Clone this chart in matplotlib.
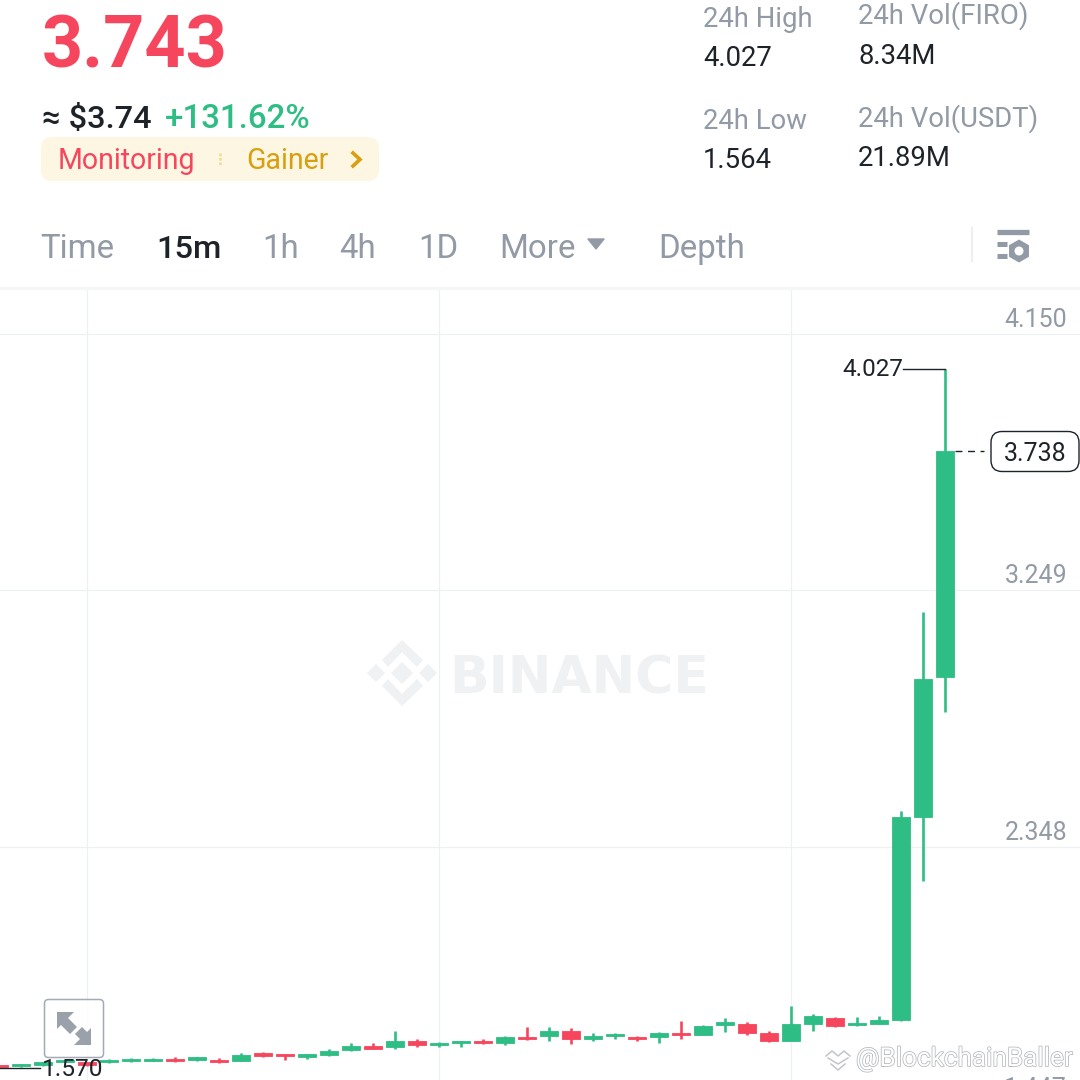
import matplotlib
matplotlib.use('Agg')
import matplotlib.pyplot as plt
import matplotlib.patheffects as pe
from matplotlib.patches import FancyBboxPatch, Polygon, Circle, RegularPolygon

# 15m candles, oldest first
opens = [1.581, 1.577, 1.581, 1.593, 1.591, 1.591, 1.595, 1.596, 1.603, 1.600, 1.600,
         1.597, 1.623, 1.620, 1.612, 1.619, 1.634, 1.648, 1.647, 1.666, 1.652, 1.658,
         1.667, 1.659, 1.682, 1.683, 1.702, 1.674, 1.683, 1.682, 1.679, 1.696, 1.687,
         1.724, 1.727, 1.695, 1.667, 1.726, 1.748, 1.722, 1.727, 1.741, 2.452, 2.944]
highs = [1.585, 1.587, 1.594, 1.603, 1.594, 1.602, 1.606, 1.606, 1.612, 1.611, 1.607,
         1.626, 1.628, 1.621, 1.622, 1.637, 1.660, 1.660, 1.700, 1.674, 1.662, 1.668,
         1.672, 1.684, 1.714, 1.716, 1.711, 1.695, 1.695, 1.683, 1.698, 1.736, 1.722,
         1.746, 1.732, 1.700, 1.788, 1.763, 1.750, 1.752, 1.753, 2.476, 3.172, 4.027]
lows = [1.572, 1.574, 1.579, 1.591, 1.579, 1.590, 1.593, 1.595, 1.594, 1.596, 1.589,
        1.595, 1.612, 1.598, 1.605, 1.613, 1.633, 1.638, 1.640, 1.645, 1.645, 1.645,
        1.655, 1.652, 1.671, 1.666, 1.655, 1.668, 1.672, 1.666, 1.661, 1.673, 1.686,
        1.698, 1.688, 1.664, 1.665, 1.703, 1.717, 1.720, 1.725, 1.737, 2.227, 2.821]
closes = [1.574, 1.584, 1.591, 1.600, 1.581, 1.600, 1.603, 1.605, 1.595, 1.609, 1.593,
          1.619, 1.613, 1.613, 1.620, 1.633, 1.650, 1.640, 1.666, 1.651, 1.660, 1.667,
          1.658, 1.680, 1.672, 1.701, 1.672, 1.683, 1.692, 1.674, 1.696, 1.686, 1.718,
          1.732, 1.695, 1.666, 1.727, 1.753, 1.719, 1.729, 1.741, 2.452, 2.937, 3.738]

price_ticks = [4.150, 3.249, 2.348, 1.447]
time_grid = [4, 20, 36]
tabs = ['Time', '15m', '1h', '4h', '1D', 'More', 'Depth']
tab_x = [40, 156, 262, 339, 418, 499, 658]

GREEN = '#2EBD85'
RED = '#F6465D'
DARK = '#1E2329'
GRAY = '#929AA5'
GRID = '#EEF0F2'
GOLD = '#D89F0E'
FONT = 'Roboto'

plt.rcParams['font.family'] = FONT
fig = plt.figure(figsize=(10.8, 10.8), dpi=100, facecolor='white')

# chart area, y pixels 289-1080
ax = fig.add_axes([0, 0, 1, 791 / 1080])
ax.set_xlim(1 / 22, 1081 / 22)
ax.set_ylim(1.5295, 4.308)
for s in ax.spines.values():
    s.set_visible(False)
ax.set_xticks([])
ax.set_yticks([])

for t in price_ticks:
    ax.axhline(t, color=GRID, lw=0.9, zorder=1)
    ax.annotate(f'{t:.3f}', xy=(1, t), xycoords=('axes fraction', 'data'),
                xytext=(-13, 7), textcoords='offset pixels', ha='right', va='baseline',
                fontsize=18, color=GRAY, annotation_clip=False)
for g in time_grid:
    ax.axvline(g, color=GRID, lw=0.9, zorder=1)

for i in range(len(opens)):
    c = GREEN if closes[i] >= opens[i] else RED
    ax.vlines(i, lows[i], highs[i], color=c, lw=1.9, zorder=3)
    ax.bar(i, abs(closes[i] - opens[i]), bottom=min(opens[i], closes[i]),
           width=0.86, color=c, ec=c, lw=0.6, zorder=3)

# high / low / last markers
ax.plot([41.1, 43], [highs[-1], highs[-1]], color=DARK, lw=1, zorder=4)
ax.annotate('4.027', xy=(41.1, highs[-1]), xytext=(0, -1), textcoords='offset pixels',
            ha='right', va='center', fontsize=17.5, color=DARK)
ax.plot([0, 1.85], [1.570, 1.570], color=DARK, lw=1, zorder=6)
ax.plot([43.45, 44.75], [closes[-1], closes[-1]], color=DARK, lw=1, ls=(0, (5, 4)), zorder=4)

# everything else is placed in pixels
ov = fig.add_axes([0, 0, 1, 1], facecolor='none')
ov.set_xlim(0, 1080)
ov.set_ylim(1080, 0)
ov.axis('off')


def txt(x, y, s, size, color, weight='normal', ha='left', **kw):
    return ov.text(x, y, s, fontsize=size * 0.72, color=color, fontweight=weight, ha=ha,
                   va='baseline', **kw)


# header
txt(42, 68, '3.743', 72, RED, 'bold')
txt(42, 128, '≈ $3.74', 32.5, DARK, 'medium')
txt(165, 128, '+131.62%', 33, GREEN, 'medium')
ov.add_patch(FancyBboxPatch((41, 137), 338, 44, boxstyle='round,pad=0,rounding_size=11',
                            fc='#FDF6E3', ec='none'))
txt(58, 169, 'Monitoring', 28.5, RED)
txt(246, 169, 'Gainer', 28.5, GOLD)
ov.plot([220, 220], [153, 165], color='#EFDF9A', lw=2, ls=(0, (1, 0.6)))
ov.plot([353, 360, 353], [153, 159.5, 166], color=GOLD, lw=2.6, solid_joinstyle='miter')

txt(703, 27, '24h High', 27.5, GRAY)
txt(703, 66, '4.027', 27.5, DARK)
txt(703, 129, '24h Low', 27.5, GRAY)
txt(703, 168, '1.564', 27.5, DARK)
txt(858, 24, '24h Vol(FIRO)', 27.5, GRAY)
txt(858, 64, '8.34M', 27.5, DARK)
txt(858, 127, '24h Vol(USDT)', 27.5, GRAY)
txt(858, 166, '21.89M', 27.5, DARK)

# tabs
for x, s in zip(tab_x, tabs):
    if s == '15m':
        txt(x, 258, s, 32.5, DARK, 'medium')
    else:
        txt(x, 258, s, 33, GRAY)
ov.add_patch(Polygon([(588, 239), (604, 239), (596, 249)], fc=GRAY, ec=GRAY, lw=1, joinstyle='round'))
ov.plot([972, 972], [228, 261], color='#EEEFF1', lw=1.6)
ov.plot([997, 1029], [231.5, 231.5], color=GRAY, lw=3.8, solid_capstyle='butt')
ov.plot([997, 1007], [244, 244], color=GRAY, lw=3.6, solid_capstyle='butt')
ov.plot([997, 1007], [256, 256], color=GRAY, lw=3.6, solid_capstyle='butt')
ov.add_patch(RegularPolygon((1019, 251), 6, radius=11.5, fc=GRAY, ec='none'))
ov.add_patch(Circle((1019, 251), 4.5, fc='white', ec='none'))
ov.plot([0, 1080], [288, 288], color='#F5F6F7', lw=2.2)

# watermark
WM = '#F0F1F2'
for pts in ([(402, 640), (382, 660), (388, 667), (402, 652), (417, 667), (423, 660)],
            [(402, 706), (382, 686), (388, 679), (402, 694), (417, 679), (423, 686)],
            [(402, 662), (413, 673), (402, 684), (391, 673)],
            [(376, 664), (385, 673), (376, 682), (367, 673)],
            [(428, 664), (437, 673), (428, 682), (419, 673)]):
    ov.add_patch(Polygon(pts, fc=WM, ec='none'))
txt(449, 693, 'BINANCE', 52, WM, 'bold', family='DejaVu Sans')

# expand button
ov.add_patch(FancyBboxPatch((44.5, 999.5), 59, 58, boxstyle='round,pad=0,rounding_size=4',
                            fc=(1, 1, 1, 0.85), ec='#A5ABB4', lw=1.1, zorder=5))
for pts in ([(57, 1012), (74, 1012), (68, 1018), (77, 1027), (70, 1034), (61, 1025), (57, 1029)],
            [(91, 1045), (74, 1045), (80, 1039), (75, 1034), (82, 1027), (87, 1032), (91, 1028)]):
    ov.add_patch(Polygon(pts, fc='#9BA1AB', ec='none', zorder=6))
txt(42, 1076, '1.570', 24.5, DARK, zorder=7)

# last price tag
ov.add_patch(FancyBboxPatch((991, 431.5), 88, 40, boxstyle='round,pad=0,rounding_size=11',
                            fc='white', ec=DARK, lw=1))
ov.text(1035, 454, '3.738', fontsize=18, color=DARK, ha='center', va='center')

# uploader tag
ov.text(856, 1066, '@BlockchainBaller', fontsize=18.8, color='white', ha='left', va='baseline',
        path_effects=[pe.withStroke(linewidth=1.1, foreground='#B4B7BC')])
ov.plot([826, 832, 838, 844, 850], [1056, 1051, 1056, 1051, 1056], color='#C2C5C9', lw=1.1)
ov.plot([828, 838, 848], [1058, 1064, 1058], color='#C2C5C9', lw=1.1)
ov.plot([831, 838, 845], [1064, 1070, 1064], color='#C2C5C9', lw=1.1)

fig.savefig('out.png', dpi=100)
